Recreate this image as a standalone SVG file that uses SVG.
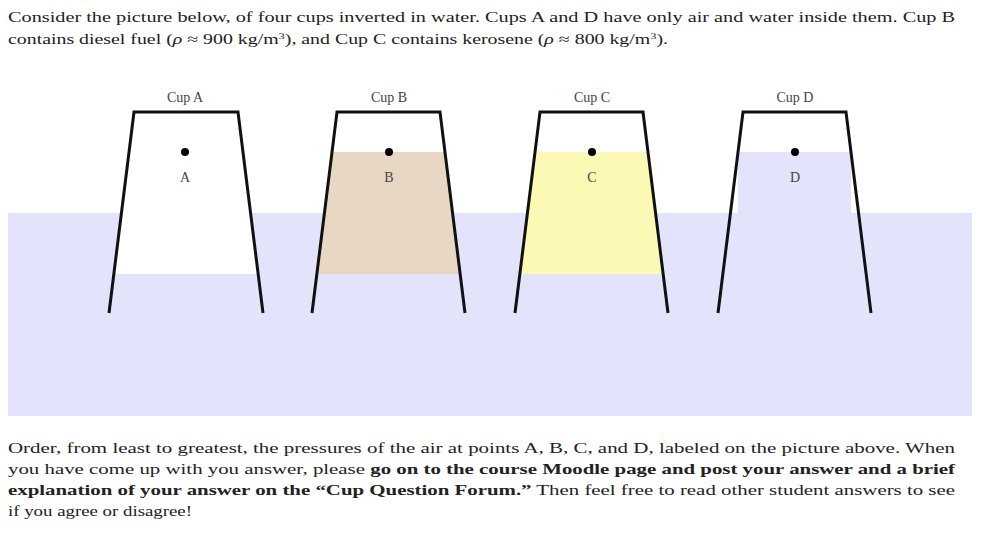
<svg xmlns="http://www.w3.org/2000/svg" width="983" height="543" viewBox="0 0 983 543">
<style>
text{font-family:"Liberation Serif","DejaVu Serif",serif;font-size:14.5px;fill:#222}
.b{font-weight:bold}
.cup{fill:none;stroke:#111;stroke-width:3;stroke-linejoin:miter}
.lbl{text-anchor:middle;font-size:14px;fill:#444}
.water{fill:#e3e3fb}
</style>
<rect width="983" height="543" fill="#fff"/>
<text x="8" y="22" textLength="947" lengthAdjust="spacingAndGlyphs">Consider the picture below, of four cups inverted in water. Cups A and D have only air and water inside them. Cup B</text>
<text x="8" y="44" textLength="660" lengthAdjust="spacingAndGlyphs">contains diesel fuel (<tspan font-style="italic">ρ</tspan> ≈ 900 kg/m<tspan dy="-5" font-size="9">3</tspan><tspan dy="5">), and Cup C contains kerosene (</tspan><tspan font-style="italic">ρ</tspan> ≈ 800 kg/m<tspan dy="-5" font-size="9">3</tspan><tspan dy="5">).</tspan></text>
<rect class="water" x="8" y="213" width="964" height="203"/>
<g id="cupA">
<polygon points="134,112 238,112 258.25,274 113.75,274" fill="#fff"/>
<polyline class="cup" points="109,313 134,112 238,112 263,313"/>
<circle cx="185" cy="152" r="4" fill="#000"/>
<text class="lbl" x="185" y="182">A</text>
<text class="lbl" x="185" y="102">Cup A</text>
</g>
<g id="cupB">
<polygon points="337,112 440,112 445,152 332,152" fill="#fff"/>
<polygon points="332,152 445,152 460.25,274 316.75,274" fill="#e8d8c3"/>
<polyline class="cup" points="312,313 337,112 440,112 465,313"/>
<circle cx="389" cy="152" r="4" fill="#000"/>
<text class="lbl" x="389" y="182">B</text>
<text class="lbl" x="389" y="102">Cup B</text>
</g>
<g id="cupC">
<polygon points="540,112 643,112 648,152 535,152" fill="#fff"/>
<polygon points="535,152 648,152 663.25,274 519.75,274" fill="#fcf9b4"/>
<polyline class="cup" points="515,313 540,112 643,112 668,313"/>
<circle cx="592" cy="152" r="4" fill="#000"/>
<text class="lbl" x="592" y="182">C</text>
<text class="lbl" x="592" y="102">Cup C</text>
</g>
<g id="cupD">
<polygon points="743,112 846,112 851,152 738,152" fill="#fff"/>
<polygon points="738,152 851,152 851,213 738,213" class="water"/>
<polyline class="cup" points="718,313 743,112 846,112 871,313"/>
<circle cx="795" cy="152" r="4" fill="#000"/>
<text class="lbl" x="795" y="182">D</text>
<text class="lbl" x="795" y="102">Cup D</text>
</g>
<g id="connectors"/>
<text x="8" y="453" textLength="947" lengthAdjust="spacingAndGlyphs">Order, from least to greatest, the pressures of the air at points A, B, C, and D, labeled on the picture above.  When</text>
<text x="8" y="474" textLength="947" lengthAdjust="spacingAndGlyphs">you have come up with you answer, please <tspan class="b">go on to the course Moodle page and post your answer and a brief</tspan></text>
<text x="8" y="495" textLength="947" lengthAdjust="spacingAndGlyphs"><tspan class="b">explanation of your answer on the “Cup Question Forum.”</tspan> Then feel free to read other student answers to see</text>
<text x="8" y="516" textLength="184" lengthAdjust="spacingAndGlyphs">if you agree or disagree!</text>
</svg>
